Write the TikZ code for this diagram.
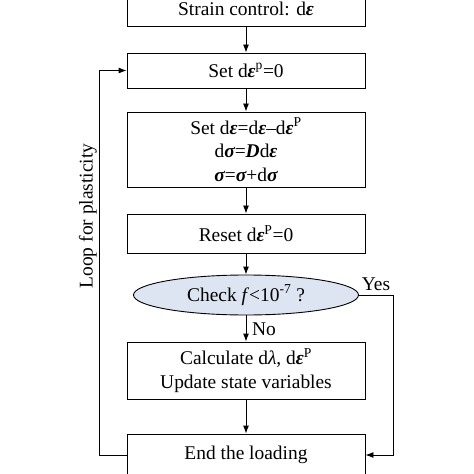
\documentclass[tikz,border=0pt]{standalone}
\usepackage{fontspec}
\setmainfont{Liberation Serif}
\usetikzlibrary{shapes.geometric,arrows.meta}
\definecolor{ellfill}{RGB}{221,229,243}
\newcommand\bEps{{\bfseries\itshape ε}}
\newcommand\bSig{{\bfseries\itshape σ}}
\newcommand\bDD{{\bfseries\itshape D}}
\tikzset{
  stepbox/.style={draw=black, line width=0.9pt, rectangle, minimum width=238bp, inner sep=0pt, align=center,
    font=\fontsize{19.5}{23.5}\selectfont},
  checkell/.style={draw=black, line width=0.9pt, ellipse, fill=ellfill, minimum width=225bp, minimum height=40bp, inner sep=0pt,
    font=\fontsize{19.5}{23.5}\selectfont},
  arr/.style={draw=black, line width=0.9pt, -{Latex[length=8bp,width=6bp]}},
  lbl/.style={font=\fontsize{19.5}{23.5}\selectfont, inner sep=0pt}
}
\begin{document}
\begin{tikzpicture}[x=1bp,y=-1bp]
\useasboundingbox (0,0) rectangle (474,474);
\clip (0,0) rectangle (474,474);
\node[stepbox, minimum height=34bp] (b1) at (246,9) {Strain control: d\bEps};
\node[stepbox, minimum height=35bp] (b2) at (246,70.5) {Set d\bEps\textsuperscript{p}=0};
\node[stepbox, minimum height=75bp] (b3) at (246,149.5) {Set d\bEps=d\bEps–d\bEps\textsuperscript{P}\\ d\bSig=\bDD d\bEps\\ \bSig=\bSig+d\bSig};
\node[stepbox, minimum height=39bp] (b4) at (246,233.5) {Reset d\bEps\textsuperscript{P}=0};
\node[checkell] (chk) at (246,295) {Check \textit{f}<10\textsuperscript{-7} ?};
\node[stepbox, minimum height=57bp] (b5) at (246,370.5) {Calculate d\textit{λ}, d\bEps\textsuperscript{P}\\ Update state variables};
\node[stepbox, minimum height=42bp] (b6) at (246,455) {End the loading};
\coordinate (loopx) at (99,0);
\coordinate (yesx) at (393,0);
\draw[arr] (b1) -- (b2);
\draw[arr] (b2) -- (b3);
\draw[arr] (b3) -- (b4);
\draw[arr] (b4) -- (chk);
\draw[arr] (chk) -- (b5);
\draw[arr] (b5) -- (b6);
\draw[arr] (chk.east) -- (chk.east -| yesx) |- (b6.east);
\draw[arr] (b6.west) -- (b6.west -| loopx) |- (b2.west);
\node[lbl, rotate=90] (looplbl) at (88,216) {Loop for plasticity};
\node[lbl] (yeslbl) at (376,284) {Yes};
\node[lbl] (nolbl) at (264,329) {No};
\end{tikzpicture}
\end{document}
